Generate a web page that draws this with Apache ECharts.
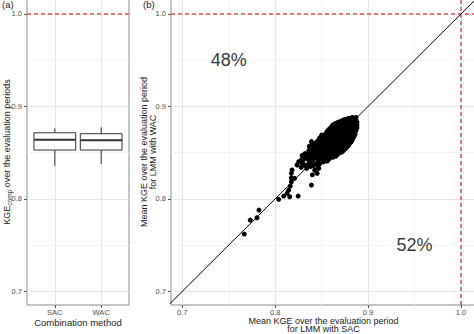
<!DOCTYPE html>
<html>
<head>
<meta charset="utf-8">
<script src="https://cdn.jsdelivr.net/npm/echarts@6/dist/echarts.min.js"></script>
<style>
html,body{margin:0;padding:0;background:#fff;}
#chart{width:474px;height:334px;}
</style>
</head>
<body>
<div id="chart"></div>
<script>
// ---------- data ----------
const methods = ['SAC', 'WAC'];
const boxLow    = [0.8358, 0.8377];
const boxQ1     = [0.8528, 0.8528];
const boxMedian = [0.8640, 0.8633];
const boxQ3     = [0.8715, 0.8705];
const boxHigh   = [0.8763, 0.8774];

const majorTicks = [0.7, 0.8, 0.9, 1.0];
const minorTicks = [0.75, 0.85, 0.95];
const methodTicks = [1, 2];
const referenceValue = 1.0;
const identityLine = [0.6, 1.1];
const quadrantText = ['48%', '52%'];
const quadrantPos = [[0.75, 0.95], [0.95, 0.75]];

// mean KGE per catchment: [LMM with SAC, LMM with WAC]
const catchmentKGE = [
 [0.7667,0.7619],[0.7731,0.7771],[0.7804,0.7796],[0.7825,0.7879],[0.8037,0.7995],[0.8091,0.8030],
 [0.8128,0.8060],[0.8156,0.8023],[0.8247,0.8030],[0.8145,0.8095],[0.8163,0.8139],[0.8174,0.8185],
 [0.8174,0.8228],[0.8174,0.8276],[0.8181,0.8312],[0.8210,0.8222],[0.8236,0.8366],[0.8253,0.8402],
 [0.8290,0.8384],[0.8326,0.8474],[0.8307,0.8428],[0.8361,0.8366],[0.8390,0.8149],[0.8361,0.8456],
 [0.8404,0.8420],[0.8426,0.8312],[0.8469,0.8330],[0.8452,0.8276],[0.8369,0.8564],[0.8398,0.8600],
 [0.8469,0.8492],[0.8506,0.8528],[0.8523,0.8420],
 [0.888,0.877],[0.888,0.880],[0.888,0.883],
 [0.887,0.874],[0.887,0.879],[0.887,0.885],[0.887,0.888],
 [0.886,0.870],[0.886,0.873],[0.886,0.876],[0.886,0.882],[0.886,0.886],
 [0.885,0.868],[0.885,0.872],[0.885,0.878],[0.885,0.881],[0.885,0.884],[0.885,0.887],
 [0.884,0.866],[0.884,0.870],[0.884,0.875],[0.884,0.879],[0.884,0.883],[0.884,0.886],
 [0.883,0.864],[0.883,0.868],[0.883,0.872],[0.883,0.877],[0.883,0.881],[0.883,0.885],[0.883,0.888],
 [0.882,0.862],[0.882,0.866],[0.882,0.870],[0.882,0.874],[0.882,0.879],[0.882,0.883],[0.882,0.887],
 [0.881,0.861],[0.881,0.865],[0.881,0.869],[0.881,0.873],[0.881,0.876],[0.881,0.880],[0.881,0.884],[0.881,0.887],
 [0.880,0.860],[0.880,0.864],[0.880,0.868],[0.880,0.871],[0.880,0.875],[0.880,0.878],[0.880,0.882],[0.880,0.886],
 [0.879,0.858],[0.879,0.863],[0.879,0.867],[0.879,0.870],[0.879,0.874],[0.879,0.877],[0.879,0.881],[0.879,0.885],[0.879,0.887],
 [0.878,0.857],[0.878,0.861],[0.878,0.865],[0.878,0.869],[0.878,0.872],[0.878,0.876],[0.878,0.880],[0.878,0.884],[0.878,0.886],
 [0.877,0.856],[0.877,0.860],[0.877,0.864],[0.877,0.868],[0.877,0.871],[0.877,0.875],[0.877,0.879],[0.877,0.883],[0.877,0.886],
 [0.876,0.855],[0.876,0.859],[0.876,0.863],[0.876,0.867],[0.876,0.870],[0.876,0.874],[0.876,0.878],[0.876,0.882],[0.876,0.885],
 [0.875,0.854],[0.875,0.858],[0.875,0.862],[0.875,0.866],[0.875,0.869],[0.875,0.873],[0.875,0.877],[0.875,0.881],[0.875,0.884],[0.875,0.886],
 [0.874,0.853],[0.874,0.857],[0.874,0.861],[0.874,0.865],[0.874,0.868],[0.874,0.872],[0.874,0.876],[0.874,0.880],[0.874,0.883],[0.874,0.885],
 [0.873,0.852],[0.873,0.856],[0.873,0.860],[0.873,0.864],[0.873,0.867],[0.873,0.871],[0.873,0.875],[0.873,0.879],[0.873,0.882],[0.873,0.885],
 [0.872,0.851],[0.872,0.855],[0.872,0.859],[0.872,0.863],[0.872,0.866],[0.872,0.870],[0.872,0.874],[0.872,0.878],[0.872,0.881],[0.872,0.884],
 [0.871,0.853],[0.871,0.858],[0.871,0.862],[0.871,0.866],[0.871,0.869],[0.871,0.873],[0.871,0.877],[0.871,0.880],[0.871,0.884],
 [0.870,0.850],[0.870,0.854],[0.870,0.857],[0.870,0.861],[0.870,0.865],[0.870,0.868],[0.870,0.872],[0.870,0.876],[0.870,0.879],[0.870,0.883],
 [0.869,0.852],[0.869,0.856],[0.869,0.860],[0.869,0.864],[0.869,0.867],[0.869,0.871],[0.869,0.875],[0.869,0.878],[0.869,0.882],
 [0.868,0.849],[0.868,0.855],[0.868,0.859],[0.868,0.863],[0.868,0.866],[0.868,0.870],[0.868,0.874],[0.868,0.877],[0.868,0.881],[0.868,0.883],
 [0.867,0.851],[0.867,0.857],[0.867,0.862],[0.867,0.865],[0.867,0.869],[0.867,0.873],[0.867,0.876],[0.867,0.880],
 [0.866,0.847],[0.866,0.854],[0.866,0.860],[0.866,0.864],[0.866,0.868],[0.866,0.872],[0.866,0.875],[0.866,0.879],[0.866,0.882],
 [0.865,0.846],[0.865,0.850],[0.865,0.858],[0.865,0.863],[0.865,0.867],[0.865,0.871],[0.865,0.874],[0.865,0.878],
 [0.864,0.852],[0.864,0.856],[0.864,0.861],[0.864,0.866],[0.864,0.870],[0.864,0.873],[0.864,0.877],[0.864,0.881],
 [0.863,0.848],[0.863,0.855],[0.863,0.860],[0.863,0.864],[0.863,0.869],[0.863,0.872],[0.863,0.876],[0.863,0.879],
 [0.862,0.845],[0.862,0.851],[0.862,0.858],[0.862,0.863],[0.862,0.868],[0.862,0.871],[0.862,0.875],[0.862,0.880],
 [0.861,0.853],[0.861,0.857],[0.861,0.862],[0.861,0.866],[0.861,0.870],[0.861,0.874],[0.861,0.878],
 [0.860,0.849],[0.860,0.855],[0.860,0.860],[0.860,0.865],[0.860,0.869],[0.860,0.873],[0.860,0.877],
 [0.859,0.846],[0.859,0.852],[0.859,0.858],[0.859,0.864],[0.859,0.868],[0.859,0.872],[0.859,0.876],
 [0.858,0.843],[0.858,0.850],[0.858,0.856],[0.858,0.862],[0.858,0.867],[0.858,0.871],[0.858,0.875],
 [0.857,0.848],[0.857,0.854],[0.857,0.860],[0.857,0.866],[0.857,0.870],[0.857,0.874],
 [0.856,0.841],[0.856,0.846],[0.856,0.852],[0.856,0.858],[0.856,0.864],[0.856,0.869],[0.856,0.873],
 [0.855,0.850],[0.855,0.856],[0.855,0.862],[0.855,0.868],[0.855,0.871],
 [0.854,0.844],[0.854,0.848],[0.854,0.854],[0.854,0.860],[0.854,0.866],[0.854,0.870],
 [0.853,0.853],[0.853,0.858],[0.853,0.864],[0.853,0.869],
 [0.852,0.840],[0.852,0.846],[0.852,0.851],[0.852,0.856],[0.852,0.862],[0.852,0.867],
 [0.851,0.849],[0.851,0.855],[0.851,0.860],[0.851,0.866],
 [0.850,0.843],[0.850,0.853],[0.850,0.858],[0.850,0.864],[0.850,0.869],
 [0.849,0.847],[0.849,0.851],[0.849,0.862],
 [0.848,0.838],[0.848,0.856],[0.848,0.860],[0.848,0.866],
 [0.847,0.845],[0.847,0.850],[0.847,0.864],
 [0.846,0.834],[0.846,0.842],[0.846,0.854],[0.846,0.858],
 [0.845,0.848],[0.845,0.862],
 [0.844,0.838],[0.844,0.851],[0.844,0.856],
 [0.843,0.831],[0.843,0.845],[0.843,0.860],
 [0.842,0.849],[0.842,0.854],
 [0.841,0.836],[0.841,0.843],[0.841,0.858],
 [0.840,0.826],[0.840,0.847],[0.840,0.852],
 [0.839,0.840],[0.839,0.856],[0.839,0.862],
 [0.838,0.835],[0.838,0.845],[0.838,0.850],
 [0.837,0.857],
 [0.836,0.838],[0.836,0.842],[0.836,0.852],
 [0.835,0.847],
 [0.834,0.833],[0.834,0.844],
 [0.832,0.836],[0.832,0.849],
 [0.830,0.838],[0.830,0.845],
 [0.829,0.847],
 [0.828,0.834],[0.828,0.842]
];

// ---------- styling ----------
const FONT = "'Liberation Sans', Arial, sans-serif";
const tickColor = '#555';
const labelColor = '#4d4d4d';
const titleColor = '#1a1a1a';
const majorGrid = '#e6e6e6';
const minorGrid = '#f3f3f3';
const refRed = '#d9505a';
const BOX_W = 0.9;

function gridLines(axisKey, values, color) {
  return values.map(v => ({ [axisKey]: v, lineStyle: { color: color, width: 1, type: 'solid' } }));
}
const noSym = ['none', 'none'];

function valueAxisY(gridIndex, name, nameGap, nameStyle) {
  return {
    type: 'value', gridIndex: gridIndex, min: 0.6852, max: 1.0162,
    axisLine: { show: false },
    axisTick: { show: true, customValues: majorTicks, length: 3, lineStyle: { color: tickColor, width: 1 } },
    axisLabel: { customValues: majorTicks, formatter: v => v.toFixed(1), fontSize: 7.5, color: labelColor, fontFamily: FONT, margin: 5 },
    splitLine: { show: false },
    name: name, nameLocation: 'middle', nameGap: nameGap, nameRotate: 90, nameMoveOverlap: false,
    nameTextStyle: nameStyle
  };
}

const chart = echarts.init(document.getElementById('chart'), null, { renderer: 'svg' });

const option = {
  animation: false,
  backgroundColor: '#ffffff',
  textStyle: { fontFamily: FONT },
  title: [
    { text: '(a)', left: 2, top: 0, padding: 0, textStyle: { fontSize: 9.5, lineHeight: 9, fontWeight: 'normal', color: titleColor, fontFamily: FONT } },
    { text: '(b)', left: 143, top: 0, padding: 0, textStyle: { fontSize: 9.5, lineHeight: 9, fontWeight: 'normal', color: titleColor, fontFamily: FONT } }
  ],
  grid: [
    { left: 27, top: -1, width: 102, height: 306, show: true, borderColor: '#8a8a8a', borderWidth: 1, backgroundColor: 'transparent', containLabel: false, outerBoundsMode: 'none' },
    { left: 171, top: -1, width: 305, height: 306, show: true, borderColor: '#8a8a8a', borderWidth: 1, backgroundColor: 'transparent', containLabel: false, outerBoundsMode: 'none' }
  ],
  xAxis: [
    {
      type: 'value', gridIndex: 0, min: 0.4, max: 2.6,
      axisLine: { show: false },
      axisTick: { show: true, customValues: methodTicks, length: 3, lineStyle: { color: tickColor } },
      axisLabel: { customValues: methodTicks, formatter: v => methods[Math.round(v) - 1], fontSize: 7.5, lineHeight: 7, color: labelColor, fontFamily: FONT, margin: 4 },
      splitLine: { show: false },
      name: 'Combination method', nameLocation: 'middle', nameGap: 12, nameMoveOverlap: false,
      nameTextStyle: { fontSize: 9.5, lineHeight: 10, color: titleColor, fontFamily: FONT, verticalAlign: 'top' }
    },
    {
      type: 'value', gridIndex: 1, min: 0.6878, max: 1.0162,
      axisLine: { show: false },
      axisTick: { show: true, customValues: majorTicks, length: 3, lineStyle: { color: tickColor } },
      axisLabel: { customValues: majorTicks, formatter: v => v.toFixed(1), fontSize: 7.5, lineHeight: 7, color: labelColor, fontFamily: FONT, margin: 4 },
      splitLine: { show: false },
      name: 'Mean KGE over the evaluation period\nfor LMM with SAC', nameLocation: 'middle', nameGap: 11.3, nameMoveOverlap: false,
      nameTextStyle: { fontSize: 9, lineHeight: 8.8, color: titleColor, fontFamily: FONT, verticalAlign: 'top' }
    }
  ],
  yAxis: [
    valueAxisY(0, '{k|KGE}{s|comp}{k| over the evaluation periods}', 14, {
      color: titleColor, fontFamily: FONT,
      rich: {
        k: { fontSize: 9, lineHeight: 12, color: titleColor, fontFamily: FONT },
        s: { fontSize: 6.5, lineHeight: 6, verticalAlign: 'bottom', color: titleColor, fontFamily: FONT }
      }
    }),
    valueAxisY(1, 'Mean KGE over the evaluation period\nfor LMM with WAC', 13, {
      fontSize: 9, lineHeight: 9.5, color: titleColor, fontFamily: FONT
    })
  ],
  series: [
    // panel (a) grid lines
    {
      type: 'scatter', xAxisIndex: 0, yAxisIndex: 0, data: [], z: 1, silent: true,
      markLine: {
        z: 1, silent: true, symbol: noSym, label: { show: false }, animation: false,
        data: [].concat(gridLines('yAxis', minorTicks, minorGrid), gridLines('yAxis', majorTicks, majorGrid), gridLines('xAxis', methodTicks, majorGrid))
      }
    },
    // panel (a) reference line
    {
      type: 'scatter', xAxisIndex: 0, yAxisIndex: 0, data: [], z: 2, silent: true,
      markLine: {
        z: 2, silent: true, symbol: noSym, label: { show: false }, animation: false,
        data: [{ yAxis: referenceValue, lineStyle: { color: refRed, width: 1.5, type: [4, 3] } }]
      }
    },
    // panel (a) boxplots
    {
      type: 'custom', xAxisIndex: 0, yAxisIndex: 0, z: 3,
      data: methods.map((m, i) => [i + 1, boxLow[i], boxQ1[i], boxMedian[i], boxQ3[i], boxHigh[i]]),
      renderItem: function (params, api) {
        const x = api.value(0);
        const lo = api.coord([x, api.value(1)]);
        const q1 = api.coord([x, api.value(2)]);
        const md = api.coord([x, api.value(3)]);
        const q3 = api.coord([x, api.value(4)]);
        const hi = api.coord([x, api.value(5)]);
        const xl = api.coord([x - BOX_W / 2, api.value(3)])[0];
        const xr = api.coord([x + BOX_W / 2, api.value(3)])[0];
        return {
          type: 'group',
          children: [
            { type: 'polyline', shape: { points: [lo, q1] }, style: { stroke: '#333', lineWidth: 1, fill: 'none' } },
            { type: 'polyline', shape: { points: [q3, hi] }, style: { stroke: '#333', lineWidth: 1, fill: 'none' } },
            { type: 'rect', shape: { x: xl, y: q3[1], width: xr - xl, height: q1[1] - q3[1] }, style: { stroke: '#333', lineWidth: 1, fill: '#fff' } },
            { type: 'polyline', shape: { points: [[xl, md[1]], [xr, md[1]]] }, style: { stroke: '#333', lineWidth: 2, fill: 'none' } }
          ]
        };
      }
    },
    // panel (b) grid lines
    {
      type: 'scatter', xAxisIndex: 1, yAxisIndex: 1, data: [], z: 1, silent: true,
      markLine: {
        z: 1, silent: true, symbol: noSym, label: { show: false }, animation: false,
        data: [].concat(
          gridLines('yAxis', minorTicks, minorGrid), gridLines('xAxis', minorTicks, minorGrid),
          gridLines('yAxis', majorTicks, majorGrid), gridLines('xAxis', majorTicks, majorGrid))
      }
    },
    // panel (b) red reference lines
    {
      type: 'scatter', xAxisIndex: 1, yAxisIndex: 1, data: [], z: 2, silent: true,
      markLine: {
        z: 2, silent: true, symbol: noSym, label: { show: false }, animation: false,
        data: [
          { yAxis: referenceValue, lineStyle: { color: refRed, width: 1.5, type: [4, 3] } },
          { xAxis: referenceValue, lineStyle: { color: refRed, width: 1.5, type: [4, 3] } }
        ]
      }
    },
    // 1:1 line
    {
      type: 'line', xAxisIndex: 1, yAxisIndex: 1, z: 3, clip: true, silent: true,
      data: identityLine.map(v => [v, v]), symbol: 'none',
      lineStyle: { color: '#000', width: 1 }
    },
    // catchment points
    {
      type: 'scatter', xAxisIndex: 1, yAxisIndex: 1, z: 4, silent: true,
      data: catchmentKGE, symbolSize: 5,
      itemStyle: { color: '#000', opacity: 1 }
    },
    // percentages
    {
      type: 'scatter', xAxisIndex: 1, yAxisIndex: 1, z: 5, silent: true,
      data: quadrantPos.map((p, i) => ({ value: p, name: quadrantText[i] })),
      symbolSize: 0,
      label: { show: true, position: 'inside', formatter: p => p.name, fontSize: 18, color: '#000', fontFamily: FONT }
    }
  ]
};
chart.setOption(option);
</script>
</body>
</html>
